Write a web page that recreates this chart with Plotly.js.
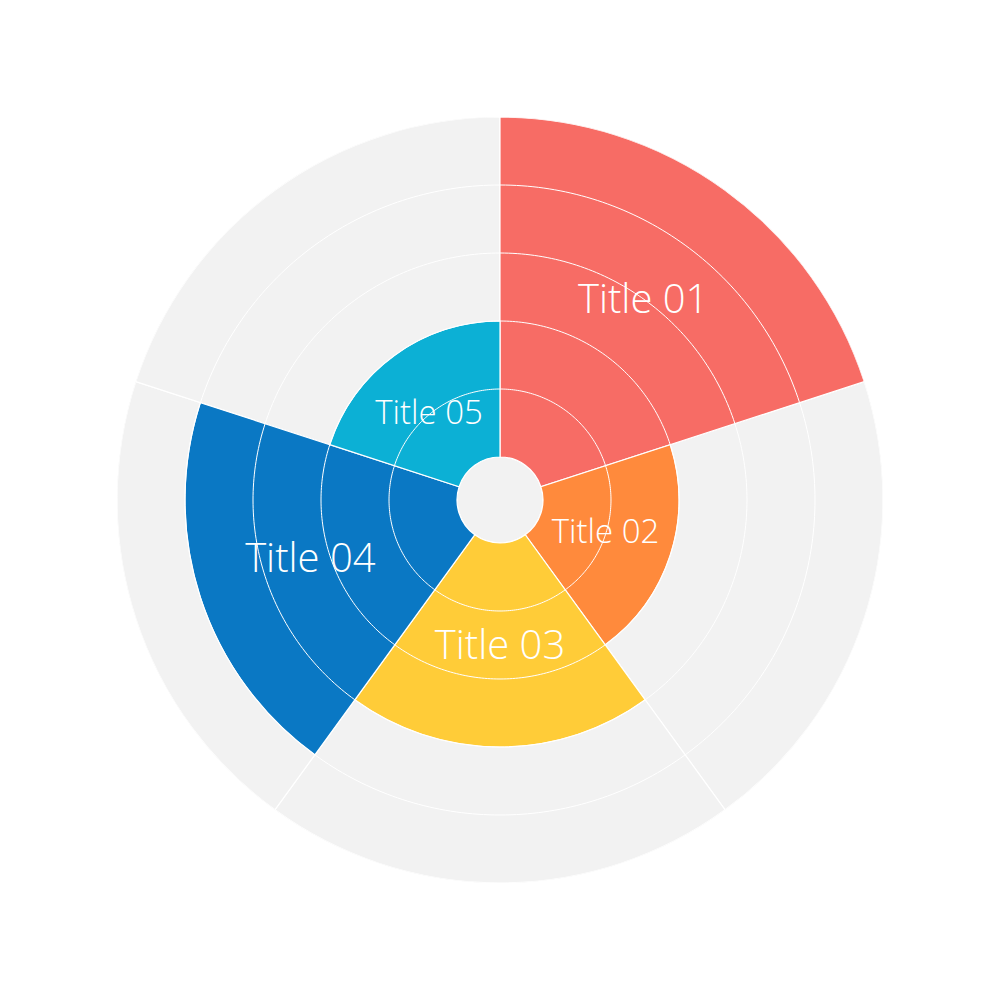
<!DOCTYPE html>
<html>
<head>
<meta charset="utf-8">
<script src="https://cdn.plot.ly/plotly-3.0.1.min.js"></script>
<style>
  html, body { margin: 0; padding: 0; background: #ffffff; }
  #chart { width: 1000px; height: 1000px; }
</style>
</head>
<body>
<div id="chart"></div>
<script>
// sector data (radial scale 0..5)
const titles = ['Title 01', 'Title 02', 'Title 03', 'Title 04', 'Title 05'];
const values = [5, 2, 3, 4, 2];
const maxValue = 5;
const rings = [1, 2, 3, 4];
const colors = ['#F76C65', '#FF8A3C', '#FFCC38', '#0A78C4', '#0CB0D5'];
// where each label sits, and its size
const labelR = [2.95, 1.0, 1.56, 2.3, 0.99];
const labelTheta = [36, 108, 180, 252, 320];
const labelSize = [40, 33, 40, 40, 33];

const SECTOR = 360 / titles.length;
let theta = titles.map((t, i) => SECTOR / 2 + i * SECTOR);

//grey background sectors, full length
let background = {
    type: 'barpolar',
    r: titles.map(() => maxValue),
    base: titles.map(() => 0),
    theta: theta,
    width: titles.map(() => SECTOR),
    marker: {
        color: '#F2F2F2',
        line: {color: '#ffffff', width: 1.2}
    },
    hoverinfo: 'none'
};

//coloured sectors
let bars = {
    type: 'barpolar',
    r: values,
    base: titles.map(() => 0),
    theta: theta,
    width: titles.map(() => SECTOR),
    marker: {
        color: colors,
        line: {color: '#ffffff', width: 1.2}
    },
    hoverinfo: 'none'
};

//white rings on top of the bars (polar grid always sits below traces)
let ringTraces = rings.map(v => {
    let th = [];
    for (let a = 0; a <= 360; a += 1) th.push(a);
    return {
        type: 'scatterpolar',
        mode: 'lines',
        r: th.map(() => v),
        theta: th,
        line: {color: '#ffffff', width: 1},
        hoverinfo: 'none'
    };
});

//labels, placed through the polar scale
let labels = {
    type: 'scatterpolar',
    mode: 'text',
    r: labelR,
    theta: labelTheta,
    text: titles,
    textposition: 'middle center',
    textfont: {
        family: 'Open Sans, sans-serif',
        weight: 300,
        size: labelSize,
        color: '#ffffff'
    },
    hoverinfo: 'none'
};

const LAYOUT = {
    width: 1000,
    height: 1000,
    margin: {l: 0, r: 0, t: 0, b: 0},
    paper_bgcolor: '#ffffff',
    showlegend: false,
    polar: {
        domain: {x: [0.117, 0.883], y: [0.117, 0.883]},
        bgcolor: '#F2F2F2',
        barmode: 'overlay',
        radialaxis: {
            range: [-0.632, maxValue],
            showgrid: false,
            showticklabels: false,
            ticks: '',
            showline: false
        },
        angularaxis: {
            direction: 'clockwise',
            rotation: 90,
            showgrid: false,
            showline: false,
            showticklabels: false,
            ticks: ''
        }
    }
};

Plotly.newPlot('chart', [background, bars].concat(ringTraces, [labels]), LAYOUT, {staticPlot: true});
</script>
</body>
</html>
